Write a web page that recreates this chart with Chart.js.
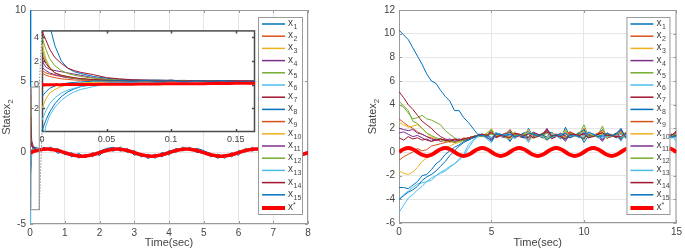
<!DOCTYPE html>
<html>
<head>
<meta charset="utf-8">
<script src="https://cdn.jsdelivr.net/npm/chart.js@4.4.0/dist/chart.umd.min.js"></script>
<style>
body { margin:0; background:#fff; width:685px; height:250px; overflow:hidden; position:relative; }
.wrap { position:absolute; }
#wl { left:0; top:0; }
#wr { left:345px; top:0; }
#wi { left:20px; top:22px; }
</style>
</head>
<body>
<div class="wrap" id="wl"><canvas id="cl" width="340" height="250"></canvas></div>
<div class="wrap" id="wr"><canvas id="cr" width="340" height="250"></canvas></div>
<div class="wrap" id="wi"><canvas id="ci" width="240" height="125"></canvas></div>
<script>
// ---------- right plot: time grid + states ----------
const tR = [0,0.25,0.5,0.75,1,1.25,1.5,1.75,2,2.25,2.5,2.75,3,3.25,3.5,3.75,4,4.25,
  4.5,4.75,5,5.25,5.5,5.75,6,6.25,6.5,6.75,7,7.25,7.5,7.75,8,8.25,8.5,8.75,9,9.25,9.5,9.75,
  10,10.25,10.5,10.75,11,11.25,11.5,11.75,12,12.25,12.5,12.75,13,13.25,13.5,13.75,14,14.25,14.5,14.75,15];

const x1R = [10.3,9.9,9.5,8.8,8.1,7.4,6.6,6.0,5.8,5.2,4.7,4.3,3.5,3.5,2.9,2.5,2.0,1.5,
  1.5,1.3,1.9,1.2, 1.4,1.6,0.9,1.5, 1.4,1.2,2.0,1.3, 1.5,1.3,1.8,1.6, 1.4,1.1,2.1,1.3, 1.4,1.6,0.8,1.4, 1.3,1.5,1.9,1.2, 1.4,1.3,1.1,1.6, 1.5,1.2,1.9,1.3, 1.4,1.6,0.9,1.4, 1.3,1.5,1.4];
const x2R = [2.8,2.5,2.2,2.0,1.7,1.5,1.3,1.2,1.0,1.1,0.9,1.0,1.1,1.0,1.2,1.1,1.3,1.4,
  1.3,1.5,1.0,1.6, 1.4,1.3,1.8,1.2, 1.5,1.4,0.9,1.5, 1.3,1.6,1.2,1.4, 1.5,1.3,1.7,1.5, 1.4,1.2,2.0,1.3, 1.4,1.5,1.0,1.6, 1.3,1.4,1.8,1.2, 1.4,1.5,1.1,1.6, 1.3,1.4,1.9,1.2, 1.4,1.3,1.5];
const x3R = [-1.6,-1.8,-1.9,-1.7,-1.3,-0.8,-0.5,-0.3,0.0,0.2,0.4,0.5,0.7,0.8,1.0,1.1,1.3,1.4,
  1.4,1.2,1.7,1.3, 1.5,1.4,1.1,1.7, 1.3,1.5,1.6,1.1, 1.4,1.2,1.0,1.5, 1.3,1.6,1.2,1.6, 1.5,1.3,1.8,1.2, 1.4,1.2,1.6,1.4, 1.5,1.3,1.0,1.7, 1.3,1.5,1.7,1.2, 1.4,1.6,1.1,1.5, 1.4,1.3,1.4];
const x4R = [2.0,1.9,1.8,1.9,1.6,1.5,1.3,1.1,1.0,1.1,1.0,0.9,1.0,1.1,1.0,1.2,1.3,1.4,
  1.5,1.4,1.1,1.5, 1.3,1.2,1.7,1.4, 1.4,1.6,1.2,1.7, 1.5,1.4,2.0,1.2, 1.4,1.3,0.9,1.6, 1.3,1.5,1.6,1.2, 1.5,1.3,0.9,1.5, 1.4,1.6,1.9,1.3, 1.4,1.3,1.0,1.5, 1.5,1.2,1.7,1.4, 1.3,1.5,1.3];
const x5R = [4.0,3.8,3.3,2.8,2.9,3.1,2.8,2.7,2.5,2.3,1.8,1.5,1.2,1.0,1.0,1.1,1.2,1.3,
  1.3,1.6,1.8,1.3, 1.4,1.5,1.2,1.6, 1.5,1.3,1.7,1.4, 1.4,1.6,1.1,1.3, 1.5,1.3,1.9,1.2, 1.4,1.7,1.3,1.5, 1.3,1.4,2.2,1.1, 1.5,1.3,1.2,1.6, 1.4,1.5,1.8,1.4, 1.3,1.2,1.0,1.6, 1.5,1.4,1.6];
const x6R = [-5.1,-4.5,-3.9,-3.6,-3.2,-2.9,-2.5,-2.4,-2.0,-1.8,-1.6,-1.3,-1.0,-0.7,-0.3,0.3,0.9,1.3,
  1.4,1.1,0.8,1.5, 1.3,1.4,1.6,1.1, 1.5,1.2,1.0,1.6, 1.4,1.3,1.6,1.2, 1.4,1.5,1.1,1.5, 1.3,1.4,1.7,1.3, 1.5,1.2,1.1,1.6, 1.4,1.2,1.5,1.3, 1.4,1.5,1.0,1.6, 1.3,1.1,1.8,1.2, 1.4,1.5,0.8];
const x7R = [5.1,4.6,4.0,3.6,3.1,2.6,2.3,2.0,1.6,1.3,1.1,1.0,0.9,1.0,1.0,1.1,1.2,1.3,
  1.5,1.3,1.6,1.2, 1.4,1.5,1.9,1.3, 1.3,1.2,1.3,1.6, 1.5,1.4,1.7,1.1, 1.3,1.5,1.4,1.7, 1.5,1.3,1.1,1.6, 1.4,1.5,1.7,1.2, 1.3,1.4,1.0,1.5, 1.5,1.3,1.6,1.2, 1.4,1.5,1.2,1.6, 1.5,1.4,1.7];
const x8R = [-3.0,-3.0,-3.1,-2.8,-2.5,-2.0,-1.9,-1.5,-1.0,-0.7,-0.2,0.1,0.4,0.6,0.9,1.0,1.2,1.4,
  1.4,1.5,1.2,1.6, 1.5,1.3,0.9,1.5, 1.4,1.6,1.8,1.3, 1.4,1.2,1.3,1.7, 1.3,1.4,1.0,1.4, 1.4,1.6,1.9,1.2, 1.5,1.3,1.3,1.5, 1.4,1.6,1.1,1.5, 1.3,1.4,1.9,1.1, 1.4,1.6,1.3,1.5, 1.3,1.2,1.4];
const x9R = [-0.7,-0.4,-0.2,0.0,0.3,0.1,0.2,0.5,0.6,0.7,0.8,0.9,0.8,1.0,1.1,1.2,1.3,1.4,
  1.3,1.4,1.6,1.2, 1.4,1.6,1.3,1.5, 1.5,1.3,1.1,1.4, 1.4,1.5,1.8,1.3, 1.5,1.2,1.5,1.7, 1.4,1.3,1.2,1.5, 1.4,1.6,1.8,1.3, 1.5,1.3,1.6,1.2, 1.4,1.4,1.2,1.6, 1.5,1.3,1.6,1.2, 1.4,1.5,1.3];
const x10R = [2.5,2.3,2.1,2.2,2.3,2.0,1.6,1.3,1.1,0.9,1.0,0.8,0.9,1.0,1.1,1.2,1.3,1.4,
  1.4,1.6,2.0,1.3, 1.5,1.3,1.1,1.4, 1.3,1.5,1.9,1.2, 1.4,1.3,1.2,1.6, 1.5,1.4,1.8,1.3, 1.3,1.5,1.0,1.6, 1.4,1.3,1.8,1.2, 1.5,1.4,1.7,1.3, 1.4,1.6,1.2,1.5, 1.4,1.3,1.8,1.3, 1.5,1.4,1.5];
const x11R = [1.6,1.7,1.5,1.3,1.4,1.2,1.0,0.9,1.1,0.9,1.0,1.1,0.9,1.0,1.1,1.1,1.2,1.4,
  1.5,1.2,1.0,1.6, 1.4,1.5,1.7,1.2, 1.4,1.3,1.2,1.6, 1.3,1.5,1.9,1.3, 1.4,1.6,1.3,1.2, 1.5,1.4,1.6,1.4, 1.3,1.5,1.0,1.6, 1.4,1.2,1.9,1.3, 1.5,1.4,1.3,1.5, 1.4,1.6,1.1,1.4, 1.3,1.5,1.4];
const x12R = [4.3,3.9,3.5,2.6,2.4,2.0,1.6,1.4,1.2,1.1,0.9,1.0,0.8,0.9,1.0,1.2,1.3,1.4,
  1.3,1.5,1.5,1.4, 1.5,1.2,1.8,1.4, 1.4,1.5,1.3,1.6, 1.3,1.4,1.6,1.2, 1.5,1.3,1.2,1.6, 1.4,1.5,2.3,1.3, 1.4,1.3,1.5,1.5, 1.3,1.5,1.7,1.2, 1.5,1.3,1.4,1.6, 1.4,1.5,1.5,1.3, 1.4,1.3,1.6];
const x13R = [-4.1,-3.6,-3.3,-3.0,-2.7,-2.6,-2.5,-2.2,-2.0,-1.7,-1.5,-1.2,-1.0,-0.6,-0.2,0.6,1.0,1.3,
  1.4,1.3,1.2,1.7, 1.3,1.5,1.4,1.2, 1.5,1.4,0.8,1.5, 1.4,1.3,1.1,1.6, 1.3,1.5,1.6,1.3, 1.4,1.2,1.4,1.6, 1.5,1.4,1.2,1.3, 1.4,1.5,0.9,1.6, 1.3,1.4,1.5,1.2, 1.5,1.3,1.0,1.6, 1.4,1.3,1.2];
const x14R = [1.2,1.0,1.3,1.1,1.2,1.0,1.1,0.9,1.0,1.1,1.0,0.9,1.1,1.0,1.1,1.2,1.3,1.4,
  1.5,1.4,1.7,1.3, 1.4,1.3,1.2,1.6, 1.5,1.4,1.5,1.2, 1.3,1.5,1.9,1.4, 1.4,1.3,1.1,1.5, 1.5,1.4,1.5,1.2, 1.3,1.5,1.6,1.4, 1.4,1.3,1.3,1.6, 1.5,1.4,1.6,1.3, 1.4,1.5,1.4,1.2, 1.5,1.4,1.8];
const x15R = [-4.0,-3.7,-3.4,-3.2,-2.9,-2.4,-2.1,-1.9,-1.6,-1.2,-0.8,-0.3,0.1,0.5,0.8,1.0,1.2,1.4,
  1.4,1.3,0.9,1.5, 1.5,1.4,1.5,1.3, 1.4,1.2,1.6,1.5, 1.4,1.5,1.0,1.3, 1.5,1.4,1.6,1.2, 1.4,1.3,1.1,1.7, 1.5,1.3,1.4,1.6, 1.4,1.5,2.0,1.2, 1.4,1.3,1.0,1.6, 1.4,1.5,1.4,1.3, 1.5,1.3,1.4];
const refR = [0,0.23,0.33,0.23,0,-0.23,-0.33,-0.23, 0,0.23,0.33,0.23,0,-0.23,-0.33,-0.23,
  0,0.23,0.33,0.23,0,-0.23,-0.33,-0.23, 0,0.23,0.33,0.23,0,-0.23,-0.33,-0.23,
  0,0.23,0.33,0.23,0,-0.23,-0.33,-0.23, 0,0.23,0.33,0.23,0,-0.23,-0.33,-0.23,
  0,0.23,0.33,0.23,0,-0.23,-0.33,-0.23, 0,0.23,0.33,0.23,0];

// ---------- left plot: time grid + states ----------
const tL = [0,0.02,0.05,0.1, 0.2,0.4,0.6,0.8,1.0, 1.2,1.4,1.6,1.8,2.0, 2.2,2.4,2.6,2.8,3.0, 3.2,3.4,3.6,3.8,4.0,
  4.2,4.4,4.6,4.8,5.0, 5.2,5.4,5.6,5.8,6.0, 6.2,6.4,6.6,6.8,7.0, 7.2,7.4,7.6,7.8,8.0];

const x1L = [10,2.5,0.6,0.4, .35,.14,.39,-.05,.1,-.3,-.04,-.34,0,-.2, .3,.38,.1,.3,-.18,-.05,-.42,-.1,-.3,.15,
  .02,.4,.15,.3,.15,-.3,-.1,-.4,0,-.18, .3,.1,.4,.05,.15,-.3,-.1,-.38,-.05,-.15];
const x2L = [1.2,.8,.45,.3, .2,.22,.28,.12,.03,-.12,-.27,-.2,-.17,.04, .16,.27,.22,.17,-.03,-.14,-.22,-.26,-.12,.02,
  .18,.21,.27,.13,.02,-.17,-.23,-.22,-.16,.03, .14,.26,.21,.16,-.02,-.13,-.25,-.23,-.13,0];
const x3L = [3.5,1.6,.6,.35, .22,.25,.21,.18,-.02,-.13,-.22,-.27,-.14,.03, .17,.22,.27,.12,.04,-.16,-.25,-.21,-.17,.01,
  .13,.27,.24,.17,-.03,-.12,-.27,-.24,-.12,.04, .18,.23,.26,.13,.02,-.17,-.22,-.25,-.15,-.02];
const x4L = [2.0,1.2,.6,.35, .19,.26,.23,.14,.03,-.14,-.25,-.22,-.16,.02, .16,.23,.26,.15,-.02,-.13,-.25,-.25,-.13,.03,
  .17,.25,.22,.14,.02,-.16,-.22,-.26,-.15,.01, .15,.26,.23,.14,-.01,-.14,-.26,-.22,-.14,.02];
const x5L = [4.0,1.4,.5,.32, .2,.24,.26,.16,.01,-.13,-.24,-.25,-.15,.02, .14,.26,.23,.16,.02,-.16,-.23,-.24,-.16,.02,
  .15,.24,.25,.14,.01,-.15,-.25,-.23,-.13,.02, .16,.24,.25,.15,.01,-.15,-.24,-.24,-.15,.01];
const x6L = [-5,-1.6,-.1,.25, .16,.25,.22,.16,0,-.16,-.23,-.25,-.14,.01, .15,.23,.25,.14,.01,-.15,-.24,-.23,-.15,0,
  .15,.25,.23,.16,0,-.15,-.23,-.25,-.15,.01, .16,.23,.24,.15,0,-.16,-.24,-.23,-.15,0];
const x7L = [4.5,2.2,.8,.4, .22,.26,.24,.17,.02,-.13,-.23,-.23,-.14,.02, .16,.25,.25,.16,.02,-.14,-.23,-.24,-.14,.01,
  .16,.25,.24,.16,.02,-.14,-.23,-.23,-.14,.02, .16,.25,.24,.16,.02,-.14,-.24,-.23,-.14,.01];
const x8L = [-3.9,-1.5,0,.3, .05,.38,.12,.3,-.15,0,-.38,-.12,-.28,.12, .28,.1,.4,.02,.15,-.3,-.1,-.4,.02,-.17,
  .3,.12,.38,0,.12,-.05,-.4,-.12,-.3,.15, .05,.38,.12,.3,-.15,0,-.38,-.1,-.3,.12];
const x9L = [1.0,.7,.4,.3, .17,.23,.25,.14,.01,-.14,-.24,-.24,-.15,.01, .15,.24,.24,.15,0,-.15,-.24,-.24,-.15,.01,
  .15,.24,.24,.15,.01,-.15,-.24,-.24,-.15,0, .15,.24,.24,.15,0,-.15,-.24,-.24,-.15,0];
const x10L = [-2.0,-.4,.15,.3, .16,.23,.25,.14,.01,-.14,-.25,-.23,-.16,.01, .14,.25,.23,.16,-.01,-.16,-.23,-.25,-.14,.02,
  .16,.24,.23,.15,.01,-.14,-.24,-.25,-.15,0, .15,.25,.24,.14,.02,-.15,-.25,-.23,-.16,.01];
const x11L = [1.5,.9,.45,.3, .18,.25,.23,.16,.02,-.15,-.23,-.24,-.14,.03, .17,.24,.25,.15,.03,-.13,-.24,-.23,-.15,.02,
  .17,.25,.23,.16,.02,-.14,-.23,-.25,-.14,.02, .16,.24,.25,.16,.03,-.14,-.23,-.24,-.14,.02];
const x12L = [3.0,1.1,.5,.33, .19,.25,.24,.15,.02,-.14,-.24,-.24,-.14,.02, .16,.25,.24,.16,.01,-.14,-.24,-.24,-.14,.02,
  .16,.25,.24,.15,.02,-.14,-.24,-.24,-.14,.01, .16,.25,.24,.15,.01,-.14,-.24,-.24,-.14,.02];
const x13L = [-3.0,-1.0,-.05,.25, .13,.22,.23,.13,-.02,-.17,-.26,-.26,-.17,-.02, .13,.22,.22,.13,-.02,-.17,-.26,-.26,-.17,-.02,
  .13,.22,.23,.13,-.02,-.17,-.26,-.26,-.17,-.02, .13,.22,.22,.13,-.02,-.17,-.26,-.26,-.17,-.02];
const x14L = [2.5,1.0,.5,.32, .18,.26,.25,.16,.02,-.13,-.23,-.23,-.14,.03, .17,.26,.25,.16,.02,-.13,-.23,-.23,-.14,.03,
  .17,.26,.25,.16,.02,-.13,-.23,-.23,-.14,.03, .17,.26,.25,.16,.02,-.13,-.23,-.23,-.14,.03];
const x15L = [-1.0,-.2,.2,.35, .2,.3,.3,.05,.08,-.22,-.15,-.32,-.05,-.1, .1,.32,.2,.22,-.1,-.2,-.3,-.15,-.22,.08,
  .22,.18,.33,.08,-.08,-.1,-.32,-.2,-.08,-.06, .2,.3,.18,.2,.06,-.22,-.16,-.3,-.2,.08];
const refL = [0,0.02,0.04,0.08, .15,.24,.24,.15,0,-.15,-.24,-.24,-.15,0, .15,.24,.24,.15,0,-.15,-.24,-.24,-.15,0,
  .15,.24,.24,.15,0,-.15,-.24,-.24,-.15,0, .15,.24,.24,.15,0,-.15,-.24,-.24,-.15,0];

// ---------- inset (zoom of first 0.165 s) ----------
const tIn = [0,.003,.006,.01,.015,.02,.025,.03,.04,.05,.06,.07,.08,.09,.1,.11,.12,.13,.14,.15,.16,.165];
const x1I = [10,7,5,3.3,2.0,1.4,1.1,.95,.7,.55, .45,.42,.38,.4,.35,.37,.33,.36,.32,.34,.31,.33];
const x2I = [1.2,1.0,.9,.8,.7,.6,.55,.5,.42,.36, .33,.3,.32,.29,.31,.28,.3,.27,.3,.28,.29,.28];
const x3I = [3.5,2.2,1.5,1.0,.8,.65,.55,.5,.42,.38, .34,.3,.33,.28,.31,.3,.27,.31,.29,.26,.3,.28];
const x4I = [2.0,1.5,1.3,1.2,1.1,1.0,.9,.8,.6,.45, .38,.35,.33,.34,.3,.32,.29,.31,.28,.3,.27,.29];
const x5I = [4.0,3.0,2.2,1.6,1.2,.95,.8,.7,.55,.45, .4,.36,.33,.35,.31,.3,.32,.28,.3,.29,.27,.3];
const x6I = [-5,-3.5,-2.6,-1.9,-1.3,-.9,-.6,-.4,-.15,.05, .15,.2,.24,.22,.26,.24,.27,.25,.23,.26,.25,.24];
const x7I = [4.5,3.8,3.0,2.3,1.8,1.4,1.2,1.05,.85,.6, .5,.42,.4,.37,.38,.34,.36,.33,.35,.31,.33,.32];
const x8I = [-3.9,-3.0,-2.3,-1.6,-1.0,-.6,-.35,-.16,.05,.15, .2,.25,.3,.22,.28,.24,.3,.2,.26,.28,.22,.25];
const x9I = [1.0,.8,.7,.6,.5,.45,.4,.38,.35,.32, .3,.31,.28,.3,.29,.27,.3,.28,.29,.27,.28,.27];
const x10I = [-2,-1.2,-.7,-.4,-.15,0,.08,.15,.2,.24, .26,.28,.27,.29,.26,.28,.27,.25,.28,.26,.27,.26];
const x11I = [1.5,1.2,1.0,.85,.7,.6,.52,.48,.4,.35, .32,.33,.3,.31,.29,.3,.28,.3,.27,.29,.28,.28];
const x12I = [3.0,2.0,1.4,1.0,.8,.65,.55,.48,.4,.36, .33,.31,.32,.29,.3,.31,.28,.3,.29,.27,.28,.29];
const x13I = [-3,-2.2,-1.6,-1.1,-.7,-.45,-.3,-.15,0,.15, .2,.24,.22,.26,.25,.27,.24,.26,.28,.25,.24,.26];
const x14I = [2.5,1.8,1.4,1.0,.8,.7,.6,.52,.44,.38, .35,.32,.34,.3,.31,.29,.32,.28,.3,.29,.3,.27];
const x15I = [-1,-.6,-.3,-.1,.05,.15,.2,.24,.3,.32, .35,.3,.38,.27,.4,.25,.34,.29,.36,.22,.3,.33];
const refI = [0,0,0,.01,.01,.02,.02,.02,.03,.04,.05,.05,.06,.07,.08,.09,.09,.1,.11,.12,.12,.13];

const xTicksL = [0,1,2,3,4,5,6,7,8];
const insetY = [-4, 4.6];

const FONT = "'Liberation Sans', Arial, sans-serif";
const TXT = '#444';
const colors = ['#0072BD','#D95319','#EDB120','#7E2F8E','#77AC30','#4DBEEE','#A2142F'];

function makeSets(t, series, ref, refW) {
  const sets = series.map((s, i) => ({
    label: 'x' + (i + 1),
    data: t.map((x, j) => ({x: x, y: s[j]})),
    borderColor: colors[i % 7],
    borderWidth: 1,
    pointRadius: 0,
    tension: 0,
    order: 15 - i
  }));
  sets.push({
    label: 'x*',
    data: t.map((x, j) => ({x: x, y: ref[j]})),
    borderColor: '#ff0000',
    borderWidth: refW,
    pointRadius: 0,
    tension: 0.4,
    order: -1
  });
  return sets;
}

// matlab-like box with inward ticks, drawn under the lines
const mlBox = {
  id: 'mlBox',
  beforeDatasetsDraw(chart, args, opts) {
    const ctx = chart.ctx, ca = chart.chartArea, sx = chart.scales.x, sy = chart.scales.y;
    ctx.save();
    ctx.strokeStyle = opts.color;
    ctx.lineWidth = opts.width;
    ctx.strokeRect(ca.left + 0.5, ca.top + 0.5, ca.right - ca.left - 1, ca.bottom - ca.top - 1);
    const L = opts.tick;
    ctx.beginPath();
    sx.ticks.forEach(tk => {
      const p = Math.round(sx.getPixelForValue(tk.value)) + 0.5;
      ctx.moveTo(p, ca.bottom); ctx.lineTo(p, ca.bottom - L);
      ctx.moveTo(p, ca.top); ctx.lineTo(p, ca.top + L);
    });
    sy.ticks.forEach(tk => {
      const p = Math.round(sy.getPixelForValue(tk.value)) + 0.5;
      ctx.moveTo(ca.left, p); ctx.lineTo(ca.left + L, p);
      ctx.moveTo(ca.right, p); ctx.lineTo(ca.right - L, p);
    });
    ctx.stroke();
    ctx.restore();
  }
};

const mlLegend = {
  id: 'mlLegend',
  afterDraw(chart, args, opts) {
    if (!opts.show) return;
    const ctx = chart.ctx, ca = chart.chartArea;
    const w = opts.width, right = ca.right - opts.gap, left = right - w, top = ca.top + 7;
    const rowH = 12.2, h = 197;
    ctx.save();
    ctx.fillStyle = '#fff';
    ctx.fillRect(left, top, w, h);
    ctx.strokeStyle = '#9a9a9a';
    ctx.lineWidth = 1;
    ctx.strokeRect(left + 0.5, top + 0.5, w, h);
    chart.data.datasets.forEach((ds, i) => {
      const y = top + 7 + i * rowH + (i === 15 ? 1 : 0);
      ctx.strokeStyle = ds.borderColor;
      ctx.lineWidth = i === 15 ? 4 : 1.5;
      ctx.beginPath();
      ctx.moveTo(left + 4, y);
      ctx.lineTo(left + 27, y);
      ctx.stroke();
      ctx.fillStyle = TXT;
      ctx.font = '10px ' + FONT;
      ctx.fillText('x', left + 30, y + 2);
      const xw = ctx.measureText('x').width;
      ctx.font = '7px ' + FONT;
      if (i === 15) ctx.fillText('*', left + 30 + xw, y - 1);
      else ctx.fillText(String(i + 1), left + 30.5 + xw, y + 5);
    });
    ctx.restore();
  }
};

const mlYTitle = {
  id: 'mlYTitle',
  afterDraw(chart, args, opts) {
    if (opts.x === undefined) return;
    const ctx = chart.ctx, ca = chart.chartArea;
    const cy = (ca.top + ca.bottom) / 2;
    ctx.save();
    ctx.translate(opts.x, cy);
    ctx.rotate(-Math.PI / 2);
    ctx.font = '11px ' + FONT;
    const w1 = ctx.measureText('Statex').width;
    ctx.font = '8px ' + FONT;
    const w2 = ctx.measureText('2').width;
    const x0 = -(w1 + w2) / 2;
    ctx.fillStyle = TXT;
    ctx.textBaseline = 'middle';
    ctx.font = '11px ' + FONT;
    ctx.fillText('Statex', x0, 0);
    ctx.font = '8px ' + FONT;
    ctx.fillText('2', x0 + w1, 4);
    ctx.restore();
  }
};

function baseOpts(xmin, xmax, xstep, ymin, ymax, ystep, yW, xH, pad) {
  return {
    responsive: false,
    animation: false,
    events: [],
    layout: {padding: pad},
    plugins: {legend: {display: false}, tooltip: {enabled: false}},
    scales: {
      x: {
        type: 'linear', min: xmin, max: xmax,
        ticks: {stepSize: xstep, font: {family: FONT, size: 10}, color: TXT, padding: 3, maxRotation: 0},
        grid: {color: '#e6e6e6', drawTicks: false, tickLength: 0},
        border: {display: false},
        title: {display: true, text: 'Time(sec)', font: {family: FONT, size: 11}, color: TXT, padding: 0},
        afterFit(s) { s.height = xH; }
      },
      y: {
        type: 'linear', min: ymin, max: ymax,
        ticks: {stepSize: ystep, font: {family: FONT, size: 10}, color: TXT, padding: 4},
        grid: {color: '#e6e6e6', drawTicks: false, tickLength: 0},
        border: {display: false},
        afterFit(s) { s.width = yW; }
      }
    }
  };
}

// ----- inset first (its frame is needed by the left plot) -----
const insetBg = {
  id: 'insetBg',
  beforeDraw(chart) {
    const ca = chart.chartArea, ctx = chart.ctx;
    ctx.save();
    ctx.fillStyle = '#fff';
    ctx.fillRect(ca.left, ca.top, ca.right - ca.left, ca.bottom - ca.top);
    ctx.restore();
  }
};
const inset = new Chart(document.getElementById('ci'), {
  type: 'line',
  data: {datasets: makeSets(tIn, [x1I,x2I,x3I,x4I,x5I,x6I,x7I,x8I,x9I,x10I,x11I,x12I,x13I,x14I,x15I], refI, 3)},
  options: {
    responsive: false, animation: false, events: [],
    layout: {padding: {top: 5, right: 5, left: 0, bottom: 0}},
    plugins: {legend: {display: false}, tooltip: {enabled: false}, mlBox: {color: '#4a4a4a', width: 1.5, tick: 3}},
    scales: {
      x: {
        type: 'linear', min: 0, max: 0.165,
        ticks: {stepSize: 0.05, includeBounds: false, font: {family: FONT, size: 9}, color: TXT, padding: 2,
          maxRotation: 0, callback: v => String(+v.toFixed(3))},
        grid: {display: false, drawTicks: false},
        border: {display: false},
        afterFit(s) { s.height = 15; }
      },
      y: {
        type: 'linear', min: insetY[0], max: insetY[1],
        ticks: {stepSize: 2, includeBounds: false, font: {family: FONT, size: 9}, color: TXT, padding: 3,
          callback: v => (Math.abs(v + 4) < 1e-6 ? null : String(Math.round(v)))},
        grid: {display: false, drawTicks: false},
        border: {display: false},
        afterFit(s) { s.width = 22; }
      }
    }
  },
  plugins: [insetBg, mlBox]
});

// magnifier rectangle + dotted connectors on the left plot
const mlZoom = {
  id: 'mlZoom',
  afterDatasetsDraw(chart) {
    const ctx = chart.ctx, sx = chart.scales.x, sy = chart.scales.y;
    const xa = sx.getPixelForValue(tIn[0]), xb = sx.getPixelForValue(tIn[tIn.length - 1]) + 3;
    const yT = sy.getPixelForValue(insetY[1]), yB = sy.getPixelForValue(insetY[0]);
    const ia = inset.chartArea, wrap = inset.canvas.parentNode;
    const ox = wrap.offsetLeft, oy = wrap.offsetTop;
    ctx.save();
    ctx.strokeStyle = '#8a8a8a';
    ctx.lineWidth = 1;
    ctx.strokeRect(xa + 0.5, yT, xb - xa, yB - yT);
    ctx.setLineDash([1.5, 1.5]);
    ctx.beginPath();
    ctx.moveTo(xb + 0.5, yT); ctx.lineTo(ox + ia.left, oy + ia.top);
    ctx.moveTo(xb + 0.5, yB); ctx.lineTo(ox + ia.left, oy + ia.bottom);
    ctx.stroke();
    ctx.restore();
  }
};

const optsL = baseOpts(0, 8, 1, -5, 10, 5, 30, 26, {top: 3, right: 32, left: 0, bottom: 0});
optsL.plugins.mlBox = {color: '#9a9a9a', width: 1, tick: 3};
optsL.plugins.mlLegend = {show: true, width: 44, gap: 6};
optsL.plugins.mlYTitle = {x: 7};
new Chart(document.getElementById('cl'), {
  type: 'line',
  data: {datasets: makeSets(tL, [x1L,x2L,x3L,x4L,x5L,x6L,x7L,x8L,x9L,x10L,x11L,x12L,x13L,x14L,x15L], refL, 3.5)},
  options: optsL,
  plugins: [mlBox, mlZoom, mlLegend, mlYTitle]
});

const optsR = baseOpts(0, 15, 5, -6, 12, 2, 54, 27, {top: 3, right: 7, left: 0, bottom: 0});
optsR.plugins.mlBox = {color: '#9a9a9a', width: 1, tick: 3};
optsR.plugins.mlLegend = {show: true, width: 43, gap: 7};
optsR.plugins.mlYTitle = {x: 28};
new Chart(document.getElementById('cr'), {
  type: 'line',
  data: {datasets: makeSets(tR, [x1R,x2R,x3R,x4R,x5R,x6R,x7R,x8R,x9R,x10R,x11R,x12R,x13R,x14R,x15R], refR, 4)},
  options: optsR,
  plugins: [mlBox, mlLegend, mlYTitle]
});
</script>
</body>
</html>
